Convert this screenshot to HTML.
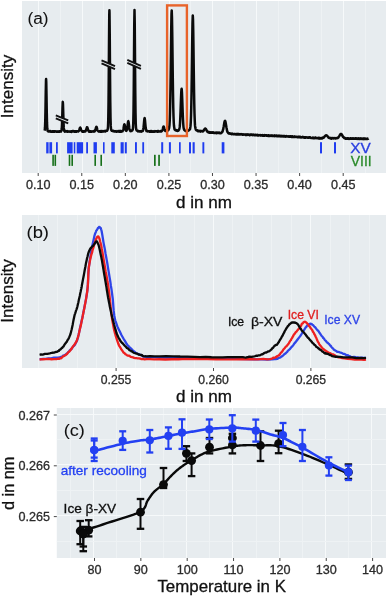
<!DOCTYPE html>
<html><head><meta charset="utf-8"><style>
html,body{margin:0;padding:0;background:#fff;width:387px;height:597px;overflow:hidden}
svg{display:block;font-family:"Liberation Sans", sans-serif;will-change:transform}
</style></head><body>
<svg width="387" height="597" viewBox="0 0 387 597" font-family='"Liberation Sans", sans-serif'><rect x="22" y="1" width="364" height="172" fill="#e7ecef"/>
<line x1="38.5" y1="1" x2="38.5" y2="173" stroke="#f6f9fa" stroke-width="1"/>
<line x1="60.5" y1="1" x2="60.5" y2="173" stroke="#eef2f4" stroke-width="1"/>
<line x1="82.5" y1="1" x2="82.5" y2="173" stroke="#f6f9fa" stroke-width="1"/>
<line x1="103.5" y1="1" x2="103.5" y2="173" stroke="#eef2f4" stroke-width="1"/>
<line x1="125.5" y1="1" x2="125.5" y2="173" stroke="#f6f9fa" stroke-width="1"/>
<line x1="147.5" y1="1" x2="147.5" y2="173" stroke="#eef2f4" stroke-width="1"/>
<line x1="169.5" y1="1" x2="169.5" y2="173" stroke="#f6f9fa" stroke-width="1"/>
<line x1="190.5" y1="1" x2="190.5" y2="173" stroke="#eef2f4" stroke-width="1"/>
<line x1="212.5" y1="1" x2="212.5" y2="173" stroke="#f6f9fa" stroke-width="1"/>
<line x1="234.5" y1="1" x2="234.5" y2="173" stroke="#eef2f4" stroke-width="1"/>
<line x1="256.5" y1="1" x2="256.5" y2="173" stroke="#f6f9fa" stroke-width="1"/>
<line x1="278.5" y1="1" x2="278.5" y2="173" stroke="#eef2f4" stroke-width="1"/>
<line x1="299.5" y1="1" x2="299.5" y2="173" stroke="#f6f9fa" stroke-width="1"/>
<line x1="321.5" y1="1" x2="321.5" y2="173" stroke="#eef2f4" stroke-width="1"/>
<line x1="343.5" y1="1" x2="343.5" y2="173" stroke="#f6f9fa" stroke-width="1"/>
<line x1="365.5" y1="1" x2="365.5" y2="173" stroke="#eef2f4" stroke-width="1"/>
<line x1="38.20" y1="173" x2="38.20" y2="176" stroke="#333" stroke-width="0.9"/>
<text stroke="#2b2b2b" stroke-width="0.3" x="38.20" y="189.2" font-size="12.6" fill="#2b2b2b" text-anchor="middle">0.10</text>
<line x1="81.77" y1="173" x2="81.77" y2="176" stroke="#333" stroke-width="0.9"/>
<text stroke="#2b2b2b" stroke-width="0.3" x="81.77" y="189.2" font-size="12.6" fill="#2b2b2b" text-anchor="middle">0.15</text>
<line x1="125.34" y1="173" x2="125.34" y2="176" stroke="#333" stroke-width="0.9"/>
<text stroke="#2b2b2b" stroke-width="0.3" x="125.34" y="189.2" font-size="12.6" fill="#2b2b2b" text-anchor="middle">0.20</text>
<line x1="168.91" y1="173" x2="168.91" y2="176" stroke="#333" stroke-width="0.9"/>
<text stroke="#2b2b2b" stroke-width="0.3" x="168.91" y="189.2" font-size="12.6" fill="#2b2b2b" text-anchor="middle">0.25</text>
<line x1="212.48" y1="173" x2="212.48" y2="176" stroke="#333" stroke-width="0.9"/>
<text stroke="#2b2b2b" stroke-width="0.3" x="212.48" y="189.2" font-size="12.6" fill="#2b2b2b" text-anchor="middle">0.30</text>
<line x1="256.05" y1="173" x2="256.05" y2="176" stroke="#333" stroke-width="0.9"/>
<text stroke="#2b2b2b" stroke-width="0.3" x="256.05" y="189.2" font-size="12.6" fill="#2b2b2b" text-anchor="middle">0.35</text>
<line x1="299.62" y1="173" x2="299.62" y2="176" stroke="#333" stroke-width="0.9"/>
<text stroke="#2b2b2b" stroke-width="0.3" x="299.62" y="189.2" font-size="12.6" fill="#2b2b2b" text-anchor="middle">0.40</text>
<line x1="343.19" y1="173" x2="343.19" y2="176" stroke="#333" stroke-width="0.9"/>
<text stroke="#2b2b2b" stroke-width="0.3" x="343.19" y="189.2" font-size="12.6" fill="#2b2b2b" text-anchor="middle">0.45</text>
<polyline points="44.50,130.62 44.75,130.02 45.00,127.49 45.25,120.92 45.50,108.38 45.75,92.07 46.00,80.23 46.10,78.99 46.25,81.73 46.50,95.31 46.75,111.35 47.00,122.68 47.25,128.23 47.50,130.26 47.75,130.97 48.00,130.83 48.25,131.27 48.50,131.49 48.75,131.29 49.00,131.48 49.25,131.46 49.50,131.06 49.75,131.56 50.00,131.46 50.25,131.26 50.50,131.08 50.75,131.68 51.00,131.41 51.25,131.59 51.50,131.70 51.75,131.59 52.00,131.74 52.25,131.38 52.50,131.66 52.75,131.42 53.00,131.76 53.25,131.73 53.50,131.18 53.75,131.21 54.00,131.27 54.25,131.79 54.50,131.42 54.75,131.56 55.00,131.33 55.25,131.47 55.50,131.39 55.75,131.36 56.00,131.53 56.25,131.52 56.50,131.75 56.75,131.59 57.00,131.76 57.25,131.71 57.50,131.80 57.75,131.58 58.00,131.22 58.25,131.70 58.50,131.77 58.75,131.72 59.00,131.48 59.25,131.57 59.50,131.21 59.75,131.63 60.00,131.44 60.25,131.21 60.50,131.03 60.75,131.54 61.00,131.57 61.25,130.77 61.50,130.49 61.75,128.73 62.00,124.40 62.25,116.69 62.50,107.53 62.75,102.06 62.80,101.88 63.00,104.56 63.25,112.96 63.50,121.69 63.75,127.38 64.00,130.00 64.25,130.91 64.50,131.19 64.75,131.63 65.00,131.19 65.25,131.06 65.50,131.45 65.75,131.07 66.00,131.20 66.25,131.36 66.50,131.51 66.75,131.20 67.00,131.13 67.25,131.71 67.50,131.33 67.75,131.78 68.00,131.74 68.25,131.38 68.50,131.44 68.75,131.49 69.00,131.58 69.25,131.54 69.50,131.52 69.75,131.56 70.00,131.79 70.25,131.49 70.50,131.44 70.75,131.64 71.00,131.30 71.25,131.35 71.50,131.82 71.75,131.50 72.00,131.52 72.25,131.14 72.50,131.43 72.75,131.54 73.00,131.15 73.25,131.57 73.50,131.58 73.75,131.18 74.00,131.57 74.25,131.46 74.50,131.61 74.75,131.38 75.00,131.62 75.25,131.64 75.50,131.14 75.75,131.17 76.00,131.59 76.25,131.79 76.50,131.29 76.75,131.43 77.00,131.52 77.25,131.32 77.50,131.34 77.75,131.29 78.00,131.30 78.25,131.40 78.50,131.08 78.75,130.99 79.00,130.59 79.25,129.99 79.50,129.20 79.75,128.38 80.00,127.75 80.20,127.57 80.25,127.58 80.50,127.96 80.75,128.69 81.00,129.53 81.25,130.25 81.50,130.77 81.75,130.96 82.00,131.14 82.25,131.58 82.50,131.34 82.75,131.65 83.00,131.18 83.25,131.30 83.50,131.52 83.75,131.69 84.00,131.38 84.25,131.22 84.50,131.13 84.75,131.40 85.00,131.13 85.25,131.48 85.50,131.33 85.75,130.78 86.00,130.25 86.25,129.50 86.50,128.59 86.75,127.73 87.00,127.21 87.10,127.16 87.25,127.27 87.50,127.88 87.75,128.78 88.00,129.67 88.25,130.38 88.50,130.86 88.75,131.08 89.00,131.58 89.25,131.12 89.50,131.05 89.75,131.72 90.00,131.69 90.25,131.77 90.50,131.39 90.75,131.76 91.00,131.74 91.25,131.25 91.50,131.62 91.75,131.68 92.00,131.56 92.25,131.46 92.50,131.29 92.75,131.33 93.00,131.24 93.25,131.12 93.50,131.48 93.75,131.25 94.00,131.60 94.25,131.02 94.50,131.55 94.75,131.24 95.00,130.80 95.25,130.27 95.50,129.49 95.75,128.51 96.00,127.54 96.25,126.87 96.40,126.75 96.50,126.80 96.75,127.37 97.00,128.31 97.25,129.30 97.50,130.13 97.75,130.70 98.00,130.94 98.25,131.06 98.50,131.57 98.75,131.35 99.00,131.58 99.25,131.29 99.50,131.19 99.75,131.43 100.00,131.63 100.25,131.18 100.50,131.62 100.75,131.71 101.00,131.63 101.25,131.64 101.50,131.07 101.75,131.50 102.00,131.66 102.25,131.08 102.50,131.23 102.75,131.22 103.00,131.40 103.25,131.31 103.50,131.34 103.75,131.54 104.00,130.98 104.25,131.00 104.50,131.03 104.75,131.01 105.00,130.94 105.25,131.54 105.50,131.42 105.75,130.84 106.00,131.07 106.25,130.87 106.50,130.78 106.75,130.70 107.00,130.76 107.25,130.50 107.50,129.99 107.75,129.03 108.00,126.80 108.25,120.02 108.50,104.58 108.75,77.47 109.00,42.95 109.25,15.55 109.40,10.17 109.50,12.60 109.75,36.30 110.00,70.83 110.25,100.09 110.50,117.77 110.75,125.91 111.00,128.89 111.25,129.89 111.50,130.38 111.75,130.76 112.00,130.72 112.25,131.03 112.50,130.95 112.75,130.88 113.00,131.14 113.25,131.30 113.50,130.90 113.75,131.18 114.00,131.21 114.25,131.55 114.50,131.61 114.75,131.23 115.00,131.61 115.25,131.55 115.50,131.19 115.75,131.34 116.00,131.11 116.25,131.60 116.50,131.50 116.75,131.66 117.00,131.60 117.25,131.52 117.50,131.57 117.75,131.45 118.00,131.13 118.25,131.47 118.50,131.06 118.75,131.16 119.00,131.60 119.25,131.09 119.50,131.12 119.75,131.12 120.00,131.66 120.25,131.17 120.50,131.05 120.75,131.62 121.00,131.10 121.25,131.59 121.50,131.46 121.75,131.55 122.00,131.60 122.25,131.28 122.50,131.31 122.75,130.53 123.00,130.40 123.25,129.61 123.50,128.44 123.75,126.98 124.00,125.52 124.25,124.51 124.40,124.32 124.50,124.40 124.75,125.23 125.00,126.62 125.25,128.08 125.50,129.28 125.75,130.10 126.00,130.64 126.25,130.90 126.50,130.55 126.75,130.14 127.00,129.43 127.25,128.10 127.50,126.24 127.75,124.09 128.00,122.18 128.25,121.20 128.30,121.17 128.50,121.63 128.75,123.24 129.00,125.37 129.25,127.39 129.50,128.94 129.75,129.95 130.00,130.50 130.25,130.88 130.50,131.17 130.75,130.68 131.00,130.63 131.25,131.05 131.50,131.11 131.75,130.75 132.00,130.57 132.25,130.60 132.50,129.96 132.75,129.45 133.00,127.82 133.25,123.45 133.50,112.02 133.75,89.61 134.00,56.87 134.25,24.37 134.50,10.11 134.75,24.37 135.00,56.88 135.25,89.62 135.50,112.04 135.75,123.47 136.00,127.86 136.25,129.32 136.50,130.21 136.75,130.42 137.00,130.45 137.25,130.71 137.50,130.79 137.75,131.18 138.00,130.80 138.25,131.45 138.50,131.13 138.75,131.25 139.00,131.18 139.25,131.46 139.50,131.47 139.75,131.29 140.00,131.25 140.25,131.42 140.50,131.52 140.75,131.20 141.00,131.43 141.25,131.58 141.50,131.22 141.75,131.03 142.00,131.00 142.25,131.28 142.50,131.13 142.75,131.07 143.00,130.49 143.25,129.27 143.50,127.64 143.75,125.31 144.00,122.50 144.25,119.85 144.50,118.25 144.60,118.10 144.75,118.45 145.00,120.34 145.25,123.09 145.50,125.84 145.75,128.05 146.00,129.53 146.25,130.12 146.50,131.09 146.75,130.93 147.00,131.09 147.25,131.30 147.50,131.41 147.75,130.97 148.00,131.22 148.25,131.31 148.50,131.36 148.75,131.18 149.00,131.45 149.25,131.72 149.50,131.33 149.75,131.45 150.00,131.16 150.25,131.27 150.50,131.55 150.75,131.16 151.00,131.71 151.25,131.73 151.50,131.16 151.75,131.75 152.00,131.36 152.25,131.64 152.50,131.63 152.75,131.30 153.00,131.57 153.25,131.56 153.50,131.66 153.75,131.28 154.00,131.62 154.25,131.77 154.50,131.57 154.75,131.47 155.00,131.17 155.25,131.44 155.50,131.34 155.75,131.59 156.00,131.56 156.25,131.48 156.50,131.21 156.75,131.53 157.00,131.51 157.25,131.19 157.50,131.69 157.75,131.52 158.00,131.14 158.25,131.70 158.50,131.15 158.75,131.27 159.00,131.54 159.25,131.44 159.50,131.41 159.75,131.46 160.00,131.32 160.25,131.20 160.50,131.09 160.75,131.00 161.00,131.43 161.25,131.43 161.50,131.23 161.75,131.26 162.00,130.80 162.25,130.54 162.50,129.95 162.75,129.10 163.00,128.09 163.25,127.12 163.50,126.53 163.60,126.47 163.75,126.58 164.00,127.24 164.25,128.20 164.50,129.16 164.75,129.93 165.00,130.43 165.25,130.95 165.50,130.56 165.75,130.71 166.00,130.59 166.25,130.57 166.50,130.99 166.75,130.90 167.00,130.45 167.25,130.37 167.50,130.44 167.75,130.55 168.00,130.45 168.25,130.22 168.50,129.84 168.75,129.11 169.00,128.56 169.25,127.06 169.50,124.79 169.75,120.37 170.00,112.72 170.25,101.67 170.50,86.12 170.75,66.91 171.00,46.06 171.25,27.00 171.50,13.99 171.70,10.48 171.75,10.70 172.00,18.19 172.25,34.13 172.50,54.38 172.75,74.91 173.00,92.81 173.25,106.89 173.50,116.24 173.75,122.41 174.00,126.05 174.25,127.50 174.50,129.08 174.75,129.57 175.00,129.78 175.25,130.02 175.50,130.14 175.75,130.07 176.00,130.40 176.25,130.13 176.50,130.51 176.75,130.66 177.00,130.55 177.25,130.66 177.50,130.94 177.75,130.88 178.00,130.33 178.25,130.75 178.50,130.54 178.75,129.98 179.00,129.90 179.25,129.22 179.50,128.01 179.75,126.41 180.00,123.59 180.25,118.75 180.50,112.73 180.75,105.65 181.00,98.42 181.25,92.40 181.50,89.08 181.60,88.77 181.75,89.47 182.00,93.44 182.25,99.83 182.50,107.14 182.75,114.07 183.00,119.82 183.25,124.02 183.50,127.09 183.75,128.63 184.00,129.35 184.25,129.84 184.50,130.14 184.75,130.38 185.00,130.44 185.25,130.73 185.50,130.91 185.75,130.82 186.00,130.75 186.25,130.92 186.50,130.68 186.75,130.78 187.00,130.97 187.25,130.69 187.50,130.51 187.75,130.97 188.00,130.79 188.25,130.48 188.50,130.40 188.75,130.41 189.00,130.34 189.25,129.93 189.50,129.56 189.75,129.38 190.00,129.24 190.25,127.79 190.50,126.14 190.75,122.54 191.00,116.72 191.25,107.48 191.50,94.47 191.75,77.32 192.00,57.65 192.25,38.25 192.50,22.98 192.75,15.80 192.80,15.59 193.00,18.96 193.25,31.42 193.50,49.68 193.75,69.65 194.00,88.06 194.25,102.95 194.50,113.67 194.75,120.49 195.00,125.41 195.25,127.29 195.50,128.50 195.75,129.46 196.00,129.65 196.25,130.22 196.50,130.21 196.75,130.20 197.00,130.27 197.25,130.84 197.50,130.60 197.75,131.03 198.00,130.87 198.25,131.25 198.50,130.85 198.75,130.86 199.00,130.91 199.25,131.32 199.50,131.22 199.75,131.04 200.00,130.89 200.25,131.34 200.50,131.58 200.75,131.36 201.00,130.98 201.25,131.02 201.50,131.09 201.75,131.16 202.00,131.06 202.25,131.05 202.50,131.42 202.75,131.50 203.00,130.87 203.25,131.21 203.50,130.61 203.75,130.52 204.00,129.94 204.25,129.55 204.50,129.17 204.75,128.85 205.00,128.63 205.25,128.54 205.30,128.55 205.50,128.62 205.75,128.85 206.00,129.20 206.25,129.62 206.50,130.07 206.75,130.51 207.00,131.21 207.25,131.02 207.50,131.70 207.75,131.92 208.00,132.16 208.25,132.09 208.50,132.45 208.75,132.13 209.00,132.22 209.25,132.14 209.50,132.57 209.75,132.39 210.00,132.28 210.25,132.23 210.50,132.64 210.75,132.58 211.00,132.67 211.25,132.46 211.50,132.55 211.75,132.33 212.00,132.74 212.25,132.28 212.50,132.61 212.75,132.83 213.00,132.79 213.25,132.40 213.50,132.51 213.75,132.95 214.00,132.82 214.25,133.00 214.50,133.02 214.75,132.73 215.00,133.06 215.25,132.96 215.50,132.70 215.75,132.73 216.00,132.54 216.25,132.78 216.50,133.18 216.75,132.60 217.00,132.94 217.25,132.63 217.50,132.62 217.75,133.03 218.00,132.75 218.25,132.62 218.50,132.70 218.75,133.06 219.00,133.02 219.25,132.62 219.50,132.78 219.75,133.30 220.00,132.77 220.25,133.01 220.50,132.90 220.75,133.13 221.00,132.98 221.25,133.06 221.50,132.79 221.75,132.41 222.00,132.18 222.25,131.78 222.50,131.82 222.75,130.65 223.00,129.71 223.25,129.25 223.50,127.40 223.75,126.13 224.00,124.59 224.25,123.12 224.50,121.88 224.75,121.05 225.00,120.77 225.25,121.08 225.50,121.95 225.75,123.21 226.00,124.71 226.25,126.28 226.50,127.75 226.75,128.87 227.00,130.52 227.25,131.27 227.50,132.12 227.75,132.21 228.00,132.80 228.25,133.00 228.50,133.36 228.75,133.02 229.00,133.29 229.25,133.45 229.50,133.21 229.75,133.59 230.00,133.75 230.25,133.57 230.50,133.75 230.75,133.75 231.00,133.50 231.25,133.63 231.50,134.10 231.75,133.66 232.00,133.75 232.25,133.53 232.50,133.64 232.75,133.63 233.00,134.18 233.25,134.06 233.50,134.18 233.75,134.28 234.00,134.04 234.25,134.28 234.50,134.02 234.75,133.96 235.00,134.34 235.25,134.33 235.50,134.38 235.75,134.07 236.00,134.29 236.25,134.05 236.50,134.48 236.75,134.44 237.00,134.02 237.25,134.49 237.50,133.98 237.75,133.93 238.00,134.39 238.25,134.11 238.50,134.28 238.75,134.38 239.00,133.98 239.25,134.49 239.50,134.17 239.75,134.30 240.00,134.25 240.25,134.54 240.50,134.56 240.75,134.25 241.00,134.13 241.25,134.28 241.50,134.37 241.75,134.14 242.00,134.21 242.25,134.65 242.50,134.61 242.75,134.82 243.00,134.83 243.25,134.77 243.50,134.43 243.75,134.29 244.00,134.41 244.25,134.52 244.50,134.58 244.75,134.60 245.00,134.49 245.25,134.84 245.50,134.45 245.75,134.59 246.00,134.90 246.25,134.85 246.50,134.51 246.75,134.48 247.00,134.89 247.25,134.34 247.50,134.43 247.75,134.72 248.00,134.74 248.25,134.49 248.50,134.42 248.75,134.54 249.00,134.95 249.25,134.74 249.50,135.11 249.75,134.99 250.00,135.14 250.25,134.49 250.50,134.60 250.75,134.49 251.00,134.80 251.25,134.74 251.50,134.55 251.75,134.91 252.00,134.60 252.25,134.76 252.50,134.73 252.75,135.13 253.00,134.87 253.25,134.77 253.50,134.63 253.75,134.91 254.00,135.06 254.25,135.10 254.50,135.28 254.75,135.22 255.00,134.84 255.25,134.77 255.50,135.22 255.75,135.25 256.00,135.06 256.25,135.30 256.50,135.11 256.75,134.93 257.00,134.87 257.25,134.77 257.50,135.22 257.75,135.41 258.00,135.43 258.25,135.13 258.50,135.28 258.75,135.47 259.00,135.40 259.25,135.27 259.50,135.15 259.75,135.23 260.00,135.00 260.25,135.02 260.50,135.38 260.75,135.60 261.00,135.30 261.25,135.22 261.50,135.19 261.75,135.27 262.00,135.52 262.25,135.29 262.50,135.65 262.75,135.10 263.00,135.22 263.25,135.38 263.50,135.31 263.75,135.63 264.00,135.63 264.25,135.71 264.50,135.50 264.75,135.10 265.00,135.49 265.25,135.48 265.50,135.45 265.75,135.32 266.00,135.63 266.25,135.78 266.50,135.22 266.75,135.63 267.00,135.43 267.25,135.54 267.50,135.82 267.75,135.88 268.00,135.67 268.25,135.36 268.50,135.88 268.75,135.37 269.00,135.53 269.25,135.85 269.50,135.50 269.75,135.48 270.00,135.96 270.25,135.97 270.50,135.54 270.75,135.61 271.00,135.54 271.25,135.44 271.50,135.54 271.75,136.06 272.00,135.44 272.25,135.56 272.50,135.55 272.75,135.47 273.00,135.79 273.25,135.96 273.50,136.03 273.75,135.90 274.00,136.04 274.25,135.48 274.50,135.69 274.75,136.17 275.00,135.56 275.25,135.71 275.50,135.87 275.75,135.73 276.00,135.93 276.25,135.60 276.50,135.74 276.75,136.25 277.00,135.70 277.25,136.24 277.50,135.74 277.75,136.32 278.00,136.11 278.25,136.10 278.50,135.76 278.75,135.71 279.00,136.21 279.25,135.81 279.50,135.83 279.75,136.29 280.00,136.33 280.25,135.77 280.50,136.41 280.75,136.13 281.00,136.03 281.25,135.85 281.50,136.06 281.75,136.49 282.00,136.00 282.25,135.91 282.50,135.93 282.75,135.93 283.00,136.09 283.25,136.50 283.50,135.92 283.75,136.01 284.00,136.55 284.25,136.60 284.50,136.60 284.75,136.09 285.00,136.18 285.25,136.61 285.50,136.29 285.75,136.46 286.00,136.19 286.25,136.00 286.50,136.24 286.75,136.53 287.00,136.56 287.25,136.42 287.50,136.36 287.75,136.42 288.00,136.37 288.25,136.44 288.50,136.66 288.75,136.23 289.00,136.52 289.25,136.76 289.50,136.71 289.75,136.26 290.00,136.82 290.25,136.74 290.50,136.29 290.75,136.37 291.00,136.34 291.25,136.25 291.50,136.92 291.75,136.53 292.00,136.87 292.25,136.36 292.50,136.30 292.75,136.92 293.00,136.88 293.25,137.03 293.50,136.83 293.75,136.73 294.00,136.92 294.25,136.46 294.50,136.79 294.75,136.74 295.00,136.54 295.25,136.88 295.50,136.70 295.75,136.84 296.00,136.76 296.25,136.74 296.50,136.78 296.75,136.97 297.00,137.25 297.25,137.23 297.50,137.19 297.75,137.19 298.00,136.82 298.25,137.32 298.50,136.84 298.75,136.75 299.00,137.03 299.25,137.21 299.50,136.95 299.75,137.18 300.00,136.94 300.25,137.43 300.50,137.09 300.75,137.12 301.00,137.17 301.25,137.43 301.50,137.52 301.75,137.22 302.00,137.17 302.25,137.31 302.50,136.94 302.75,137.20 303.00,137.51 303.25,137.48 303.50,136.99 303.75,137.56 304.00,137.25 304.25,137.68 304.50,137.27 304.75,137.17 305.00,137.42 305.25,137.67 305.50,137.37 305.75,137.69 306.00,137.60 306.25,137.37 306.50,137.34 306.75,137.50 307.00,137.44 307.25,137.43 307.50,137.64 307.75,137.82 308.00,137.63 308.25,137.33 308.50,137.40 308.75,137.52 309.00,137.71 309.25,137.39 309.50,137.36 309.75,137.55 310.00,137.53 310.25,137.37 310.50,137.74 310.75,138.02 311.00,137.77 311.25,137.93 311.50,138.00 311.75,138.02 312.00,138.09 312.25,137.78 312.50,137.96 312.75,137.58 313.00,138.13 313.25,137.79 313.50,137.87 313.75,138.18 314.00,137.77 314.25,137.72 314.50,138.17 314.75,138.03 315.00,137.69 315.25,137.66 315.50,137.90 315.75,137.67 316.00,138.27 316.25,137.83 316.50,137.90 316.75,138.00 317.00,138.10 317.25,138.06 317.50,138.21 317.75,138.24 318.00,138.10 318.25,137.87 318.50,138.50 318.75,138.32 319.00,137.90 319.25,138.17 319.50,138.40 319.75,138.57 320.00,137.94 320.25,137.90 320.50,138.22 320.75,138.18 321.00,138.50 321.25,138.45 321.50,138.09 321.75,138.13 322.00,138.22 322.25,138.39 322.50,137.86 322.75,137.92 323.00,137.61 323.25,137.87 323.50,137.29 323.75,137.74 324.00,137.23 324.25,137.01 324.50,136.40 324.75,136.40 325.00,136.11 325.25,135.84 325.50,135.60 325.75,135.42 326.00,135.31 326.20,135.28 326.25,135.29 326.50,135.35 326.75,135.49 327.00,135.70 327.25,135.96 327.50,136.25 327.75,136.62 328.00,136.73 328.25,137.29 328.50,137.63 328.75,137.80 329.00,137.90 329.25,137.67 329.50,137.68 329.75,138.03 330.00,138.02 330.25,137.99 330.50,138.50 330.75,138.07 331.00,138.51 331.25,138.61 331.50,138.04 331.75,138.61 332.00,138.25 332.25,138.13 332.50,138.12 332.75,138.02 333.00,138.34 333.25,138.26 333.50,138.59 333.75,138.58 334.00,138.04 334.25,138.28 334.50,138.27 334.75,138.12 335.00,138.17 335.25,138.18 335.50,138.47 335.75,138.21 336.00,138.04 336.25,138.10 336.50,138.23 336.75,138.28 337.00,138.00 337.25,138.24 337.50,137.80 337.75,137.98 338.00,137.76 338.25,137.23 338.50,137.36 338.75,136.79 339.00,136.52 339.25,136.16 339.50,135.75 339.75,135.22 340.00,134.80 340.25,134.43 340.50,134.14 340.75,133.95 341.00,133.89 341.25,133.96 341.50,134.15 341.75,134.45 342.00,134.83 342.25,135.25 342.50,136.03 342.75,136.02 343.00,136.89 343.25,136.90 343.50,137.02 343.75,137.67 344.00,137.64 344.25,138.10 344.50,138.13 344.75,137.91 345.00,138.29 345.25,138.57 345.50,138.36 345.75,138.43 346.00,138.68 346.25,138.41 346.50,138.46 346.75,138.53 347.00,138.71 347.25,138.29 347.50,138.22 347.75,138.69 348.00,138.55 348.25,138.38 348.50,138.80 348.75,138.80 349.00,138.57 349.25,138.89 349.50,138.78 349.75,138.73 350.00,138.41 350.25,138.22 350.50,138.69 350.75,138.74 351.00,138.47 351.25,138.56 351.50,138.63 351.75,138.41 352.00,138.73 352.25,138.64 352.50,138.52 352.75,138.33 353.00,138.64 353.25,138.48 353.50,138.77 353.75,138.39 354.00,138.54 354.25,138.41 354.50,138.56 354.75,138.68 355.00,138.36 355.25,138.32 355.50,138.62 355.75,138.43 356.00,138.65 356.25,138.41 356.50,138.37 356.75,138.68 357.00,138.95 357.25,138.92 357.50,138.67 357.75,138.59 358.00,138.36 358.25,138.51 358.50,138.54 358.75,138.98 359.00,138.41 359.25,138.99 359.50,138.67 359.75,138.64 360.00,138.52 360.25,139.01 360.50,138.47 360.75,138.75 361.00,138.71 361.25,138.49 361.50,138.51 361.75,139.05 362.00,138.91 362.25,138.88 362.50,139.00 362.75,138.44 363.00,138.86 363.25,138.90 363.50,138.53 363.75,138.70 364.00,139.06 364.25,138.61 364.50,138.92 364.75,138.50 365.00,138.86 365.25,138.58 365.50,138.75 365.75,138.66 366.00,139.01 366.25,138.93 366.50,138.76 366.75,138.89 367.00,138.71 367.25,138.98 367.50,138.60 367.75,138.80 368.00,138.83 368.25,138.70 368.50,138.46" fill="none" stroke="#0a0a0a" stroke-width="2.5" stroke-linejoin="round"/>
<polygon points="55.8,115.4 68.2,120.4 68.2,123.4 55.8,118.4" fill="#e7ecef" stroke="none"/>
<line x1="55.8" y1="115.4" x2="68.2" y2="120.4" stroke="#111" stroke-width="1.9"/>
<line x1="55.8" y1="118.4" x2="68.2" y2="123.4" stroke="#111" stroke-width="1.9"/>
<polygon points="101.5,60.3 115,66.1 115,69.1 101.5,63.3" fill="#e7ecef" stroke="none"/>
<line x1="101.5" y1="60.3" x2="115" y2="66.1" stroke="#111" stroke-width="1.9"/>
<line x1="101.5" y1="63.3" x2="115" y2="69.1" stroke="#111" stroke-width="1.9"/>
<polygon points="127.3,59.9 140.9,65.9 140.9,68.9 127.3,62.9" fill="#e7ecef" stroke="none"/>
<line x1="127.3" y1="59.9" x2="140.9" y2="65.9" stroke="#111" stroke-width="1.9"/>
<line x1="127.3" y1="62.9" x2="140.9" y2="68.9" stroke="#111" stroke-width="1.9"/>
<rect x="167.1" y="5.4" width="19.8" height="130.6" fill="none" stroke="#e8632a" stroke-width="2.4"/>
<rect x="46.2" y="142.2" width="2.40" height="11.2" fill="#1f3cf0"/>
<rect x="49.4" y="142.2" width="2.70" height="11.2" fill="#1f3cf0"/>
<rect x="56" y="142.2" width="1.80" height="11.2" fill="#1f3cf0"/>
<rect x="67.1" y="142.2" width="5.50" height="11.2" fill="#1f3cf0"/>
<rect x="73.8" y="142.2" width="1.50" height="11.2" fill="#1f3cf0"/>
<rect x="76.7" y="142.2" width="6.40" height="11.2" fill="#1f3cf0"/>
<rect x="86.2" y="142.2" width="1.80" height="11.2" fill="#1f3cf0"/>
<rect x="93.5" y="142.2" width="3.40" height="11.2" fill="#1f3cf0"/>
<rect x="103" y="142.2" width="1.60" height="11.2" fill="#1f3cf0"/>
<rect x="111.3" y="142.2" width="3.50" height="11.2" fill="#1f3cf0"/>
<rect x="120.6" y="142.2" width="3.10" height="11.2" fill="#1f3cf0"/>
<rect x="124.8" y="142.2" width="2.00" height="11.2" fill="#1f3cf0"/>
<rect x="135" y="142.2" width="1.90" height="11.2" fill="#1f3cf0"/>
<rect x="142.3" y="142.2" width="1.80" height="11.2" fill="#1f3cf0"/>
<rect x="161.2" y="142.2" width="2.00" height="11.2" fill="#1f3cf0"/>
<rect x="168.9" y="142.2" width="2.00" height="11.2" fill="#1f3cf0"/>
<rect x="179" y="142.2" width="1.70" height="11.2" fill="#1f3cf0"/>
<rect x="189" y="142.2" width="2.00" height="11.2" fill="#1f3cf0"/>
<rect x="192.6" y="142.2" width="2.10" height="11.2" fill="#1f3cf0"/>
<rect x="202.4" y="142.2" width="1.90" height="11.2" fill="#1f3cf0"/>
<rect x="221.7" y="142.2" width="2.70" height="11.2" fill="#1f3cf0"/>
<rect x="320" y="142.2" width="2.00" height="11.2" fill="#1f3cf0"/>
<rect x="334" y="142.2" width="2.00" height="11.2" fill="#1f3cf0"/>
<rect x="52.3" y="154.8" width="1.60" height="11.1" fill="#17701a"/>
<rect x="54.5" y="154.8" width="1.60" height="11.1" fill="#17701a"/>
<rect x="68.7" y="154.8" width="1.60" height="11.1" fill="#17701a"/>
<rect x="71.4" y="154.8" width="1.60" height="11.1" fill="#17701a"/>
<rect x="94.4" y="154.8" width="1.60" height="11.1" fill="#17701a"/>
<rect x="100.4" y="154.8" width="1.60" height="11.1" fill="#17701a"/>
<rect x="154" y="154.8" width="1.70" height="11.1" fill="#17701a"/>
<rect x="158.2" y="154.8" width="1.70" height="11.1" fill="#17701a"/>
<text stroke="#2a3fe0" stroke-width="0.3" x="360.6" y="153.1" font-size="14.6" textLength="20.5" lengthAdjust="spacingAndGlyphs" fill="#2a3fe0" text-anchor="middle">XV</text>
<text stroke="#2a8a2a" stroke-width="0.3" x="361.2" y="166.3" font-size="15.3" textLength="21" lengthAdjust="spacingAndGlyphs" fill="#2a8a2a" text-anchor="middle">VIII</text>
<text x="27.6" y="24.4" font-size="16" textLength="21" lengthAdjust="spacingAndGlyphs" fill="#111" stroke="#111" stroke-width="0.05">(a)</text>
<text stroke="#111" stroke-width="0.3" transform="translate(13.4,86.5) rotate(-90)" font-size="17" fill="#111" text-anchor="middle">Intensity</text>
<text stroke="#111" stroke-width="0.3" x="204" y="207.9" font-size="16.2" textLength="56" lengthAdjust="spacingAndGlyphs" fill="#111" text-anchor="middle">d in nm</text>
<rect x="22" y="215" width="364" height="153" fill="#e7ecef"/>
<line x1="38.5" y1="215" x2="38.5" y2="368" stroke="#eef2f4" stroke-width="1"/>
<line x1="57.5" y1="215" x2="57.5" y2="368" stroke="#eef2f4" stroke-width="1"/>
<line x1="77.5" y1="215" x2="77.5" y2="368" stroke="#eef2f4" stroke-width="1"/>
<line x1="96.5" y1="215" x2="96.5" y2="368" stroke="#eef2f4" stroke-width="1"/>
<line x1="116.5" y1="215" x2="116.5" y2="368" stroke="#f6f9fa" stroke-width="1"/>
<line x1="135.5" y1="215" x2="135.5" y2="368" stroke="#eef2f4" stroke-width="1"/>
<line x1="155.5" y1="215" x2="155.5" y2="368" stroke="#eef2f4" stroke-width="1"/>
<line x1="174.5" y1="215" x2="174.5" y2="368" stroke="#eef2f4" stroke-width="1"/>
<line x1="194.5" y1="215" x2="194.5" y2="368" stroke="#eef2f4" stroke-width="1"/>
<line x1="213.5" y1="215" x2="213.5" y2="368" stroke="#f6f9fa" stroke-width="1"/>
<line x1="232.5" y1="215" x2="232.5" y2="368" stroke="#eef2f4" stroke-width="1"/>
<line x1="252.5" y1="215" x2="252.5" y2="368" stroke="#eef2f4" stroke-width="1"/>
<line x1="271.5" y1="215" x2="271.5" y2="368" stroke="#eef2f4" stroke-width="1"/>
<line x1="291.5" y1="215" x2="291.5" y2="368" stroke="#eef2f4" stroke-width="1"/>
<line x1="310.5" y1="215" x2="310.5" y2="368" stroke="#f6f9fa" stroke-width="1"/>
<line x1="330.5" y1="215" x2="330.5" y2="368" stroke="#eef2f4" stroke-width="1"/>
<line x1="349.5" y1="215" x2="349.5" y2="368" stroke="#eef2f4" stroke-width="1"/>
<line x1="369.5" y1="215" x2="369.5" y2="368" stroke="#eef2f4" stroke-width="1"/>
<line x1="116.10" y1="368" x2="116.10" y2="371" stroke="#333" stroke-width="0.9"/>
<text stroke="#2b2b2b" stroke-width="0.3" x="116.10" y="383.5" font-size="12.2" fill="#2b2b2b" text-anchor="middle">0.255</text>
<line x1="213.50" y1="368" x2="213.50" y2="371" stroke="#333" stroke-width="0.9"/>
<text stroke="#2b2b2b" stroke-width="0.3" x="213.50" y="383.5" font-size="12.2" fill="#2b2b2b" text-anchor="middle">0.260</text>
<line x1="310.90" y1="368" x2="310.90" y2="371" stroke="#333" stroke-width="0.9"/>
<text stroke="#2b2b2b" stroke-width="0.3" x="310.90" y="383.5" font-size="12.2" fill="#2b2b2b" text-anchor="middle">0.265</text>
<polyline points="39.60,359.07 41.11,359.03 43.22,358.91 45.74,358.81 48.49,358.49 51.27,358.38 53.91,357.63 56.22,357.68 58.00,357.77 59.26,357.42 60.18,357.42 60.83,356.82 61.31,356.89 61.68,356.59 62.03,356.58 62.44,356.35 63.00,355.71 63.65,355.49 64.29,355.18 64.92,355.20 65.58,354.69 66.25,353.85 66.95,353.66 67.70,352.59 68.50,352.07 69.39,350.83 70.39,349.69 71.45,349.04 72.53,347.39 73.59,346.06 74.60,345.14 75.52,343.66 76.30,341.87 76.94,340.82 77.48,339.05 77.93,337.58 78.32,335.70 78.68,334.49 79.03,332.65 79.39,331.07 79.80,329.24 80.23,327.07 80.66,325.29 81.09,323.33 81.51,321.41 81.94,319.38 82.38,317.44 82.83,315.42 83.30,312.70 83.80,310.57 84.34,307.64 84.91,304.77 85.48,302.13 86.03,298.92 86.54,295.80 87.01,292.91 87.40,290.12 87.69,286.89 87.89,284.63 88.02,281.27 88.12,278.91 88.22,276.13 88.37,272.75 88.58,270.24 88.90,266.92 89.33,263.74 89.86,259.83 90.44,256.14 91.07,252.48 91.71,249.30 92.35,245.42 92.95,242.67 93.50,240.16 94.00,238.00 94.47,235.80 94.92,234.26 95.36,233.05 95.79,232.10 96.22,230.75 96.66,230.31 97.10,229.58 97.56,228.91 98.02,227.80 98.49,227.85 98.96,227.00 99.42,227.00 99.86,227.23 100.29,227.74 100.70,228.00 101.07,229.26 101.40,230.21 101.70,231.48 101.99,233.13 102.30,234.89 102.62,236.88 102.98,239.13 103.40,241.81 103.88,244.58 104.40,246.91 104.96,249.90 105.54,253.68 106.13,256.75 106.73,260.08 107.33,263.42 107.90,267.06 108.48,270.69 109.08,274.13 109.68,277.87 110.29,281.45 110.87,285.73 111.43,288.88 111.94,292.69 112.40,296.20 112.77,298.90 113.05,302.27 113.27,305.30 113.47,307.90 113.68,310.67 113.93,312.83 114.26,315.50 114.70,317.69 115.25,320.34 115.88,322.11 116.57,324.18 117.31,326.39 118.09,328.10 118.89,329.91 119.70,331.29 120.50,332.99 121.31,334.80 122.15,336.26 123.00,337.72 123.88,339.30 124.76,340.60 125.64,342.12 126.53,343.78 127.40,344.98 128.27,345.89 129.15,346.84 130.04,347.70 130.92,348.42 131.80,349.34 132.68,350.40 133.54,351.16 134.40,351.52 135.23,352.37 136.02,352.89 136.80,353.31 137.58,353.70 138.37,354.14 139.19,354.25 140.06,354.79 141.00,354.87 141.73,355.31 142.12,355.78 142.40,356.00 142.79,356.01 143.52,356.64 144.81,356.68 146.90,356.85 150.00,356.71 154.17,357.22 159.20,357.21 164.96,357.62 171.32,357.64 178.14,357.99 185.28,358.02 192.61,358.24 200.00,358.11 208.02,358.44 217.05,358.66 226.66,358.89 236.39,358.77 245.83,359.21 254.51,359.34 262.02,359.30 267.90,359.49 272.02,359.44 274.74,359.12 276.37,359.03 277.21,358.67 277.56,358.90 277.74,358.75 278.05,358.20 278.80,358.01 279.80,357.66 280.68,357.24 281.47,356.43 282.19,356.27 282.88,355.60 283.56,355.06 284.26,354.29 285.00,353.77 285.76,353.22 286.49,352.49 287.21,351.86 287.94,350.74 288.68,350.06 289.47,349.40 290.30,348.61 291.20,347.33 292.20,346.45 293.29,345.12 294.45,343.36 295.63,342.16 296.81,340.53 297.96,338.95 299.03,337.59 300.00,336.39 300.87,335.05 301.67,333.80 302.42,332.46 303.12,331.52 303.79,330.32 304.43,329.39 305.07,328.41 305.70,327.34 306.32,326.99 306.91,325.77 307.48,325.41 308.02,324.82 308.57,324.48 309.10,323.99 309.65,324.20 310.20,323.82 310.75,323.64 311.28,324.11 311.80,324.04 312.33,324.65 312.87,324.95 313.44,325.61 314.05,326.42 314.70,326.99 315.43,327.53 316.22,328.71 317.07,329.67 317.93,330.62 318.79,331.62 319.62,333.01 320.40,334.02 321.10,335.17 321.71,335.98 322.24,336.49 322.73,337.01 323.18,337.97 323.62,338.05 324.08,338.72 324.56,339.61 325.10,340.27 325.68,340.63 326.30,341.56 326.93,342.36 327.58,342.68 328.24,343.35 328.90,343.86 329.55,344.53 330.20,345.58 330.81,345.89 331.39,346.91 331.96,347.57 332.53,348.06 333.13,348.53 333.78,349.61 334.50,349.93 335.30,350.45 336.21,350.91 337.21,351.78 338.27,351.92 339.39,352.21 340.53,352.72 341.68,352.89 342.81,353.58 343.90,353.87 344.93,354.18 345.91,354.89 346.87,355.33 347.84,355.25 348.84,355.94 349.92,356.15 351.09,356.88 352.40,357.07 353.95,356.99 355.76,357.22 357.72,357.33 359.73,357.98 361.67,357.69 363.44,357.99 364.92,358.00 366.00,358.19" fill="none" stroke="#2f45e8" stroke-width="2.3" stroke-linejoin="round"/>
<polyline points="39.60,359.48 41.13,359.47 43.27,359.24 45.82,359.09 48.60,358.89 51.42,359.24 54.08,359.05 56.41,359.11 58.20,358.72 59.46,358.77 60.35,358.26 60.98,358.33 61.42,358.02 61.76,357.53 62.07,357.27 62.46,357.00 63.00,356.32 63.64,356.14 64.27,355.92 64.91,355.21 65.56,355.11 66.24,354.55 66.95,354.07 67.70,353.06 68.50,352.06 69.39,351.45 70.39,350.28 71.45,348.75 72.53,347.14 73.59,345.75 74.60,344.52 75.52,342.83 76.30,341.77 76.94,340.14 77.48,338.50 77.93,337.37 78.32,335.75 78.68,334.62 79.03,333.07 79.39,331.22 79.80,329.59 80.23,327.84 80.66,326.10 81.09,324.33 81.51,321.82 81.94,320.00 82.38,318.01 82.83,315.58 83.30,313.35 83.80,310.48 84.34,308.20 84.91,305.08 85.48,301.85 86.03,299.13 86.54,295.86 87.01,292.76 87.40,289.99 87.70,286.85 87.91,283.90 88.06,281.28 88.18,278.18 88.30,274.83 88.44,272.44 88.63,269.26 88.90,266.90 89.24,264.87 89.62,262.47 90.04,260.18 90.49,258.22 90.96,256.29 91.46,254.24 91.97,252.89 92.50,250.43 93.06,248.64 93.67,246.68 94.31,244.27 94.97,242.49 95.62,240.10 96.26,238.88 96.86,237.58 97.40,236.70 97.88,236.57 98.31,236.39 98.70,237.04 99.08,237.77 99.44,238.65 99.83,239.97 100.24,241.74 100.70,243.45 101.21,245.56 101.76,248.78 102.34,251.68 102.93,255.25 103.53,258.97 104.11,262.14 104.67,265.42 105.20,268.57 105.69,271.64 106.17,274.09 106.62,276.51 107.06,279.06 107.50,281.83 107.93,284.02 108.36,286.89 108.80,290.23 109.23,293.48 109.65,297.02 110.07,301.11 110.48,305.17 110.90,309.03 111.34,313.10 111.81,316.74 112.30,320.38 112.82,323.12 113.36,326.17 113.93,329.03 114.51,331.52 115.10,333.56 115.72,335.93 116.35,337.88 117.00,339.94 117.66,341.88 118.34,343.81 119.04,345.52 119.76,346.62 120.49,347.82 121.24,349.35 122.01,350.27 122.80,351.32 123.60,352.70 124.41,353.08 125.24,354.10 126.09,354.45 126.96,355.28 127.87,355.67 128.81,355.61 129.80,356.12 130.83,356.98 131.90,357.15 133.01,357.36 134.15,357.87 135.32,358.15 136.52,358.19 137.75,358.39 139.00,358.36 140.02,358.69 140.71,358.70 141.28,359.10 141.95,359.18 142.94,358.97 144.47,359.31 146.75,359.03 150.00,359.06 154.29,359.39 159.45,359.26 165.31,359.48 171.73,359.27 178.56,359.25 185.65,358.85 192.85,359.22 200.00,358.75 207.64,359.07 216.14,359.27 225.11,359.31 234.15,359.34 242.88,359.11 250.91,359.27 257.85,359.32 263.30,358.88 267.13,359.29 269.65,359.17 271.15,358.78 271.91,358.84 272.22,358.49 272.37,358.20 272.63,358.26 273.30,357.64 274.21,357.83 275.01,357.68 275.73,356.99 276.39,357.08 277.00,356.23 277.59,356.31 278.19,355.54 278.80,355.48 279.41,354.63 279.98,354.35 280.52,353.20 281.06,352.57 281.60,352.31 282.16,351.47 282.75,350.63 283.40,349.52 284.11,348.74 284.87,347.94 285.67,346.78 286.49,346.34 287.31,345.18 288.12,344.27 288.89,343.11 289.60,341.91 290.25,340.77 290.86,340.19 291.43,338.83 291.98,338.12 292.53,337.10 293.09,336.16 293.67,334.96 294.30,334.04 294.99,333.40 295.74,332.18 296.52,331.56 297.31,330.44 298.08,329.65 298.80,328.75 299.45,328.24 300.00,327.43 300.43,326.71 300.76,326.15 301.01,325.85 301.22,325.60 301.40,324.88 301.60,324.33 301.82,324.05 302.10,323.64 302.43,323.48 302.78,323.23 303.15,322.74 303.52,322.19 303.91,322.00 304.31,321.83 304.70,321.76 305.10,321.74 305.48,322.21 305.85,322.13 306.22,322.46 306.60,322.84 307.00,323.23 307.42,323.83 307.88,324.16 308.40,325.00 308.97,325.95 309.60,326.33 310.27,327.56 310.97,328.45 311.68,329.35 312.40,330.47 313.11,332.07 313.80,332.87 314.47,334.48 315.14,335.48 315.80,337.06 316.47,338.32 317.14,340.07 317.81,341.61 318.50,342.57 319.20,343.94 319.91,345.20 320.62,345.80 321.34,346.81 322.06,347.80 322.80,348.66 323.55,348.97 324.32,349.95 325.10,350.27 325.88,350.84 326.65,351.85 327.43,351.70 328.23,352.60 329.05,352.86 329.93,353.17 330.88,353.60 331.90,353.99 332.93,354.28 333.91,354.92 334.91,355.35 335.99,356.32 337.19,356.84 338.59,357.38 340.24,357.52 342.20,358.16 344.69,358.30 347.76,358.91 351.18,359.14 354.74,359.51 358.22,359.52 361.41,359.66 364.07,359.85 366.00,359.56" fill="none" stroke="#ee2020" stroke-width="2.3" stroke-linejoin="round"/>
<polyline points="39.60,354.79 40.91,354.49 42.75,354.53 44.94,353.86 47.33,353.79 49.75,353.32 52.04,352.75 54.05,352.65 55.60,352.02 56.70,351.94 57.51,351.43 58.09,351.15 58.51,351.05 58.84,350.97 59.15,350.21 59.51,349.88 60.00,349.68 60.57,349.40 61.13,348.71 61.69,348.12 62.26,347.94 62.84,346.79 63.44,346.60 64.06,345.48 64.70,344.49 65.39,343.46 66.12,342.49 66.88,341.62 67.65,339.98 68.42,338.85 69.16,337.41 69.86,335.65 70.50,334.03 71.08,331.78 71.63,329.55 72.14,327.24 72.62,325.05 73.09,322.42 73.53,319.98 73.97,317.95 74.40,315.97 74.81,314.32 75.20,313.32 75.56,312.16 75.92,310.89 76.27,310.10 76.63,309.01 77.00,308.00 77.40,306.44 77.83,304.40 78.30,302.79 78.79,300.10 79.29,298.03 79.77,295.99 80.23,293.47 80.64,291.70 81.00,289.72 81.28,288.77 81.47,287.84 81.62,286.94 81.74,286.43 81.88,285.33 82.04,284.61 82.27,283.28 82.60,281.55 83.04,279.15 83.56,276.53 84.15,273.38 84.78,269.72 85.42,266.45 86.03,262.89 86.60,260.43 87.10,258.09 87.52,256.51 87.88,254.98 88.20,253.51 88.50,252.64 88.79,252.03 89.10,250.94 89.43,250.52 89.80,249.60 90.22,248.82 90.66,248.13 91.12,247.96 91.59,247.04 92.08,246.61 92.56,246.21 93.04,246.02 93.50,245.05 93.95,244.67 94.41,243.98 94.86,243.40 95.31,242.62 95.75,242.03 96.20,241.30 96.65,241.31 97.10,241.62 97.54,242.65 97.98,243.71 98.41,244.51 98.84,246.05 99.28,247.84 99.74,249.80 100.21,252.09 100.70,254.45 101.23,256.85 101.79,259.67 102.37,263.15 102.97,266.52 103.56,270.09 104.14,273.73 104.69,276.82 105.20,279.71 105.67,282.53 106.10,285.20 106.50,287.36 106.89,290.33 107.28,292.66 107.67,295.09 108.07,297.40 108.50,299.54 108.94,301.92 109.39,304.10 109.85,306.75 110.31,308.71 110.79,310.99 111.27,313.33 111.78,315.52 112.30,317.80 112.85,319.82 113.41,322.01 114.00,324.31 114.60,326.45 115.21,328.69 115.81,330.46 116.41,332.79 117.00,334.27 117.56,335.40 118.10,336.68 118.63,337.79 119.16,338.75 119.70,339.48 120.28,340.75 120.91,341.69 121.60,342.28 122.37,343.24 123.21,343.96 124.10,344.92 125.03,345.99 125.96,346.84 126.88,348.02 127.77,348.40 128.60,349.01 129.37,350.18 130.11,350.47 130.81,350.71 131.50,351.37 132.19,351.45 132.89,352.11 133.63,352.73 134.40,353.02 135.21,353.27 136.03,353.34 136.87,353.72 137.73,353.89 138.61,354.53 139.51,354.65 140.44,355.04 141.40,355.00 142.12,355.14 142.47,355.68 142.69,355.95 143.01,356.02 143.67,356.13 144.90,356.27 146.93,356.33 150.00,356.14 154.34,356.41 159.82,356.39 166.16,356.25 173.04,356.30 180.16,356.50 187.23,356.54 193.95,356.85 200.00,357.07 205.69,356.85 211.42,357.23 217.08,357.36 222.54,357.44 227.69,357.18 232.39,357.16 236.54,357.22 240.00,357.22 242.63,357.21 244.48,357.43 245.74,357.54 246.57,357.43 247.16,357.12 247.69,357.13 248.35,357.10 249.30,356.55 250.48,356.77 251.70,356.78 252.92,356.55 254.14,356.36 255.34,356.02 256.49,355.65 257.59,355.80 258.60,355.30 259.52,355.33 260.37,355.17 261.15,354.55 261.89,354.25 262.61,354.27 263.32,353.81 264.05,353.15 264.80,352.78 265.59,352.44 266.40,352.53 267.23,352.10 268.04,351.31 268.84,351.32 269.61,350.99 270.34,350.36 271.00,349.71 271.61,349.31 272.17,348.48 272.70,347.80 273.19,347.75 273.66,346.94 274.09,346.31 274.50,346.06 274.90,345.36 275.25,345.38 275.53,345.27 275.77,344.90 276.00,344.96 276.23,345.00 276.49,344.89 276.81,344.88 277.20,344.26 277.67,343.71 278.20,342.73 278.78,342.25 279.39,340.89 280.02,339.86 280.66,338.82 281.29,337.90 281.90,336.55 282.50,335.79 283.12,334.41 283.75,333.27 284.37,332.10 284.98,330.66 285.58,329.84 286.16,328.69 286.70,327.70 287.21,327.41 287.68,326.33 288.14,325.89 288.57,325.47 289.00,324.86 289.43,324.27 289.86,323.98 290.30,323.63 290.75,323.45 291.20,322.77 291.65,322.83 292.10,322.47 292.55,322.37 293.00,322.59 293.45,322.40 293.90,322.44 294.35,322.60 294.80,322.76 295.25,322.59 295.69,322.85 296.14,322.99 296.59,323.27 297.05,323.71 297.50,323.97 297.95,324.52 298.40,325.09 298.85,326.05 299.29,326.63 299.75,327.50 300.22,328.31 300.70,328.65 301.20,329.54 301.71,330.43 302.23,331.02 302.75,331.24 303.29,331.87 303.85,332.71 304.43,333.17 305.05,333.98 305.70,334.64 306.41,335.83 307.17,336.79 307.97,337.79 308.79,338.29 309.62,339.58 310.45,340.48 311.24,341.06 312.00,342.33 312.74,343.16 313.48,343.49 314.21,344.67 314.93,345.06 315.62,345.79 316.27,346.72 316.87,347.19 317.40,347.30 317.84,347.87 318.20,348.24 318.49,348.38 318.74,348.49 318.99,348.75 319.27,349.19 319.59,349.01 320.00,349.63 320.49,349.94 321.05,350.12 321.65,350.78 322.27,351.43 322.91,351.84 323.54,352.01 324.14,352.96 324.70,353.17 325.19,353.53 325.60,353.18 325.98,353.40 326.36,353.37 326.77,353.90 327.24,353.71 327.81,353.77 328.50,354.15 329.20,354.72 329.81,355.00 330.44,355.02 331.18,355.34 332.10,356.18 333.32,356.34 334.92,356.74 337.00,356.65 339.84,356.86 343.49,357.45 347.65,357.47 352.03,357.41 356.35,358.07 360.31,358.00 363.62,358.20 366.00,357.85" fill="none" stroke="#0a0a0a" stroke-width="2.3" stroke-linejoin="round"/>
<text x="26.5" y="238" font-size="16" textLength="22.5" lengthAdjust="spacingAndGlyphs" fill="#111" stroke="#111" stroke-width="0.05">(b)</text>
<text stroke="#111" stroke-width="0.3" transform="translate(13.4,291) rotate(-90)" font-size="17" fill="#111" text-anchor="middle">Intensity</text>
<text stroke="#111" stroke-width="0.3" x="204" y="401.5" font-size="16.2" textLength="56" lengthAdjust="spacingAndGlyphs" fill="#111" text-anchor="middle">d in nm</text>
<text stroke="#111" stroke-width="0.3" x="227.9" y="325.8" font-size="12.2" fill="#111">Ice</text>
<text stroke="#111" stroke-width="0.3" x="251" y="325.8" font-size="12.4" textLength="31.5" lengthAdjust="spacingAndGlyphs" fill="#111">β-XV</text>
<text stroke="#e02020" stroke-width="0.3" x="287.7" y="318.6" font-size="12.2" fill="#e02020">Ice VI</text>
<text stroke="#2f45e8" stroke-width="0.3" x="324.2" y="323.7" font-size="12.2" fill="#2f45e8">Ice XV</text>
<rect x="56.8" y="408" width="329.2" height="150" fill="#e7ecef"/>
<line x1="70.5" y1="408" x2="70.5" y2="558" stroke="#eef2f4" stroke-width="1"/>
<line x1="93.5" y1="408" x2="93.5" y2="558" stroke="#f6f9fa" stroke-width="1"/>
<line x1="116.5" y1="408" x2="116.5" y2="558" stroke="#eef2f4" stroke-width="1"/>
<line x1="140.5" y1="408" x2="140.5" y2="558" stroke="#f6f9fa" stroke-width="1"/>
<line x1="163.5" y1="408" x2="163.5" y2="558" stroke="#eef2f4" stroke-width="1"/>
<line x1="186.5" y1="408" x2="186.5" y2="558" stroke="#f6f9fa" stroke-width="1"/>
<line x1="209.5" y1="408" x2="209.5" y2="558" stroke="#eef2f4" stroke-width="1"/>
<line x1="232.5" y1="408" x2="232.5" y2="558" stroke="#f6f9fa" stroke-width="1"/>
<line x1="256.5" y1="408" x2="256.5" y2="558" stroke="#eef2f4" stroke-width="1"/>
<line x1="279.5" y1="408" x2="279.5" y2="558" stroke="#f6f9fa" stroke-width="1"/>
<line x1="302.5" y1="408" x2="302.5" y2="558" stroke="#eef2f4" stroke-width="1"/>
<line x1="325.5" y1="408" x2="325.5" y2="558" stroke="#f6f9fa" stroke-width="1"/>
<line x1="348.5" y1="408" x2="348.5" y2="558" stroke="#eef2f4" stroke-width="1"/>
<line x1="371.5" y1="408" x2="371.5" y2="558" stroke="#f6f9fa" stroke-width="1"/>
<line x1="56.8" y1="541.5" x2="386" y2="541.5" stroke="#eef2f4" stroke-width="1"/>
<line x1="56.8" y1="515.5" x2="386" y2="515.5" stroke="#f6f9fa" stroke-width="1"/>
<line x1="56.8" y1="490.5" x2="386" y2="490.5" stroke="#eef2f4" stroke-width="1"/>
<line x1="56.8" y1="464.5" x2="386" y2="464.5" stroke="#f6f9fa" stroke-width="1"/>
<line x1="56.8" y1="439.5" x2="386" y2="439.5" stroke="#eef2f4" stroke-width="1"/>
<line x1="56.8" y1="414.5" x2="386" y2="414.5" stroke="#f6f9fa" stroke-width="1"/>
<line x1="94.50" y1="558" x2="94.50" y2="561" stroke="#333" stroke-width="0.9"/>
<text stroke="#2b2b2b" stroke-width="0.3" x="94.50" y="574.4" font-size="12.6" fill="#2b2b2b" text-anchor="middle">80</text>
<line x1="140.85" y1="558" x2="140.85" y2="561" stroke="#333" stroke-width="0.9"/>
<text stroke="#2b2b2b" stroke-width="0.3" x="140.85" y="574.4" font-size="12.6" fill="#2b2b2b" text-anchor="middle">90</text>
<line x1="187.20" y1="558" x2="187.20" y2="561" stroke="#333" stroke-width="0.9"/>
<text stroke="#2b2b2b" stroke-width="0.3" x="187.20" y="574.4" font-size="12.6" fill="#2b2b2b" text-anchor="middle">100</text>
<line x1="233.55" y1="558" x2="233.55" y2="561" stroke="#333" stroke-width="0.9"/>
<text stroke="#2b2b2b" stroke-width="0.3" x="233.55" y="574.4" font-size="12.6" fill="#2b2b2b" text-anchor="middle">110</text>
<line x1="279.90" y1="558" x2="279.90" y2="561" stroke="#333" stroke-width="0.9"/>
<text stroke="#2b2b2b" stroke-width="0.3" x="279.90" y="574.4" font-size="12.6" fill="#2b2b2b" text-anchor="middle">120</text>
<line x1="326.25" y1="558" x2="326.25" y2="561" stroke="#333" stroke-width="0.9"/>
<text stroke="#2b2b2b" stroke-width="0.3" x="326.25" y="574.4" font-size="12.6" fill="#2b2b2b" text-anchor="middle">130</text>
<line x1="372.60" y1="558" x2="372.60" y2="561" stroke="#333" stroke-width="0.9"/>
<text stroke="#2b2b2b" stroke-width="0.3" x="372.60" y="574.4" font-size="12.6" fill="#2b2b2b" text-anchor="middle">140</text>
<line x1="53.8" y1="516.60" x2="56.8" y2="516.60" stroke="#333" stroke-width="0.9"/>
<text stroke="#2b2b2b" stroke-width="0.3" x="50" y="521.10" font-size="12.6" fill="#2b2b2b" text-anchor="end">0.265</text>
<line x1="53.8" y1="465.80" x2="56.8" y2="465.80" stroke="#333" stroke-width="0.9"/>
<text stroke="#2b2b2b" stroke-width="0.3" x="50" y="470.30" font-size="12.6" fill="#2b2b2b" text-anchor="end">0.266</text>
<line x1="53.8" y1="415.00" x2="56.8" y2="415.00" stroke="#333" stroke-width="0.9"/>
<text stroke="#2b2b2b" stroke-width="0.3" x="50" y="419.50" font-size="12.6" fill="#2b2b2b" text-anchor="end">0.267</text>
<polyline points="80.00,531.80 80.13,531.76 80.16,531.75 80.15,531.75 80.16,531.74 80.25,531.71 80.48,531.64 80.91,531.50 81.60,531.27 82.61,530.95 84.00,530.50 85.83,529.92 88.06,529.21 90.62,528.39 93.45,527.50 96.47,526.54 99.61,525.53 102.81,524.51 105.98,523.48 109.07,522.47 112.00,521.50 114.93,520.55 118.01,519.60 121.18,518.63 124.39,517.66 127.55,516.68 130.61,515.69 133.50,514.69 136.16,513.67 138.51,512.64 140.50,511.60 142.09,510.53 143.32,509.42 144.25,508.28 144.96,507.13 145.49,505.97 145.91,504.82 146.28,503.68 146.66,502.58 147.11,501.51 147.70,500.50 148.35,499.53 148.97,498.61 149.56,497.71 150.15,496.84 150.72,495.99 151.31,495.16 151.93,494.34 152.57,493.52 153.26,492.71 154.00,491.90 154.80,491.10 155.65,490.33 156.54,489.59 157.47,488.85 158.41,488.12 159.37,487.38 160.34,486.63 161.31,485.85 162.26,485.05 163.20,484.20 164.13,483.30 165.07,482.35 166.01,481.36 166.96,480.34 167.91,479.32 168.85,478.30 169.78,477.29 170.70,476.31 171.61,475.38 172.50,474.50 173.36,473.68 174.19,472.89 175.00,472.14 175.79,471.42 176.58,470.72 177.38,470.03 178.19,469.35 179.02,468.67 179.89,467.99 180.80,467.30 181.73,466.61 182.66,465.94 183.60,465.28 184.55,464.62 185.53,463.97 186.55,463.31 187.62,462.64 188.74,461.95 189.93,461.24 191.20,460.50 192.52,459.72 193.86,458.89 195.24,458.04 196.67,457.16 198.16,456.28 199.72,455.40 201.38,454.55 203.13,453.72 205.00,452.93 207.00,452.20 209.21,451.50 211.68,450.82 214.32,450.16 217.09,449.52 219.91,448.91 222.72,448.34 225.45,447.80 228.03,447.32 230.40,446.88 232.50,446.50 234.31,446.19 235.91,445.93 237.33,445.74 238.61,445.59 239.79,445.48 240.92,445.40 242.04,445.34 243.18,445.29 244.39,445.25 245.70,445.20 247.07,445.16 248.44,445.13 249.80,445.13 251.17,445.14 252.56,445.17 253.98,445.20 255.43,445.25 256.93,445.30 258.48,445.35 260.10,445.40 261.76,445.42 263.43,445.40 265.13,445.35 266.87,445.30 268.66,445.27 270.50,445.29 272.42,445.37 274.42,445.53 276.51,445.80 278.70,446.20 281.03,446.74 283.50,447.40 286.10,448.16 288.78,449.00 291.51,449.91 294.28,450.87 297.04,451.86 299.76,452.85 302.43,453.84 305.00,454.80 307.51,455.76 310.02,456.76 312.51,457.79 314.99,458.83 317.43,459.89 319.84,460.94 322.21,461.99 324.53,463.02 326.80,464.03 329.00,465.00 331.21,465.98 333.48,466.99 335.77,468.02 338.02,469.04 340.20,470.04 342.26,470.98 344.15,471.85 345.84,472.63 347.27,473.28 348.40,473.80" fill="none" stroke="#0a0a0a" stroke-width="2.4" stroke-linejoin="round"/>
<line x1="80.2" y1="521" x2="80.2" y2="544.2" stroke="#0a0a0a" stroke-width="2"/>
<line x1="76.45" y1="521" x2="83.95" y2="521" stroke="#0a0a0a" stroke-width="2.3"/>
<line x1="76.45" y1="544.2" x2="83.95" y2="544.2" stroke="#0a0a0a" stroke-width="2.3"/>
<line x1="88.7" y1="520.2" x2="88.7" y2="536.4" stroke="#0a0a0a" stroke-width="2"/>
<line x1="84.95" y1="520.2" x2="92.45" y2="520.2" stroke="#0a0a0a" stroke-width="2.3"/>
<line x1="84.95" y1="536.4" x2="92.45" y2="536.4" stroke="#0a0a0a" stroke-width="2.3"/>
<line x1="83.3" y1="527" x2="83.3" y2="551.2" stroke="#0a0a0a" stroke-width="2"/>
<line x1="79.55" y1="527" x2="87.05" y2="527" stroke="#0a0a0a" stroke-width="2.3"/>
<line x1="79.55" y1="551.2" x2="87.05" y2="551.2" stroke="#0a0a0a" stroke-width="2.3"/>
<line x1="83.3" y1="527" x2="83.3" y2="546.5" stroke="#0a0a0a" stroke-width="2"/>
<line x1="79.55" y1="527" x2="87.05" y2="527" stroke="#0a0a0a" stroke-width="2.3"/>
<line x1="79.55" y1="546.5" x2="87.05" y2="546.5" stroke="#0a0a0a" stroke-width="2.3"/>
<line x1="140.5" y1="499" x2="140.5" y2="528.8" stroke="#0a0a0a" stroke-width="2"/>
<line x1="136.75" y1="499" x2="144.25" y2="499" stroke="#0a0a0a" stroke-width="2.3"/>
<line x1="136.75" y1="528.8" x2="144.25" y2="528.8" stroke="#0a0a0a" stroke-width="2.3"/>
<line x1="163.5" y1="468" x2="163.5" y2="488" stroke="#0a0a0a" stroke-width="2"/>
<line x1="159.75" y1="468" x2="167.25" y2="468" stroke="#0a0a0a" stroke-width="2.3"/>
<line x1="159.75" y1="488" x2="167.25" y2="488" stroke="#0a0a0a" stroke-width="2.3"/>
<line x1="186.4" y1="446.2" x2="186.4" y2="461" stroke="#0a0a0a" stroke-width="2"/>
<line x1="182.65" y1="446.2" x2="190.15" y2="446.2" stroke="#0a0a0a" stroke-width="2.3"/>
<line x1="182.65" y1="461" x2="190.15" y2="461" stroke="#0a0a0a" stroke-width="2.3"/>
<line x1="191.6" y1="453.4" x2="191.6" y2="476.1" stroke="#0a0a0a" stroke-width="2"/>
<line x1="187.85" y1="453.4" x2="195.35" y2="453.4" stroke="#0a0a0a" stroke-width="2.3"/>
<line x1="187.85" y1="476.1" x2="195.35" y2="476.1" stroke="#0a0a0a" stroke-width="2.3"/>
<line x1="209.5" y1="438" x2="209.5" y2="453.4" stroke="#0a0a0a" stroke-width="2"/>
<line x1="205.75" y1="438" x2="213.25" y2="438" stroke="#0a0a0a" stroke-width="2.3"/>
<line x1="205.75" y1="453.4" x2="213.25" y2="453.4" stroke="#0a0a0a" stroke-width="2.3"/>
<line x1="232.4" y1="433.8" x2="232.4" y2="446.2" stroke="#0a0a0a" stroke-width="2"/>
<line x1="228.65" y1="433.8" x2="236.15" y2="433.8" stroke="#0a0a0a" stroke-width="2.3"/>
<line x1="228.65" y1="446.2" x2="236.15" y2="446.2" stroke="#0a0a0a" stroke-width="2.3"/>
<line x1="232.4" y1="438" x2="232.4" y2="453.4" stroke="#0a0a0a" stroke-width="2"/>
<line x1="228.65" y1="438" x2="236.15" y2="438" stroke="#0a0a0a" stroke-width="2.3"/>
<line x1="228.65" y1="453.4" x2="236.15" y2="453.4" stroke="#0a0a0a" stroke-width="2.3"/>
<line x1="260.5" y1="431.3" x2="260.5" y2="461" stroke="#0a0a0a" stroke-width="2"/>
<line x1="256.75" y1="431.3" x2="264.25" y2="431.3" stroke="#0a0a0a" stroke-width="2.3"/>
<line x1="256.75" y1="461" x2="264.25" y2="461" stroke="#0a0a0a" stroke-width="2.3"/>
<line x1="278.6" y1="430.7" x2="278.6" y2="453.2" stroke="#0a0a0a" stroke-width="2"/>
<line x1="274.85" y1="430.7" x2="282.35" y2="430.7" stroke="#0a0a0a" stroke-width="2.3"/>
<line x1="274.85" y1="453.2" x2="282.35" y2="453.2" stroke="#0a0a0a" stroke-width="2.3"/>
<line x1="348.4" y1="464.4" x2="348.4" y2="478.9" stroke="#0a0a0a" stroke-width="2"/>
<line x1="344.65" y1="464.4" x2="352.15" y2="464.4" stroke="#0a0a0a" stroke-width="2.3"/>
<line x1="344.65" y1="478.9" x2="352.15" y2="478.9" stroke="#0a0a0a" stroke-width="2.3"/>
<circle cx="80.2" cy="531" r="4.4" fill="#0a0a0a"/>
<circle cx="88.7" cy="530.2" r="4.4" fill="#0a0a0a"/>
<circle cx="83.3" cy="534" r="4.4" fill="#0a0a0a"/>
<circle cx="83.3" cy="534" r="4.4" fill="#0a0a0a"/>
<circle cx="140.5" cy="512.2" r="4.4" fill="#0a0a0a"/>
<circle cx="163.5" cy="484.6" r="4.4" fill="#0a0a0a"/>
<circle cx="186.4" cy="453.3" r="4.4" fill="#0a0a0a"/>
<circle cx="191.6" cy="460.6" r="4.4" fill="#0a0a0a"/>
<circle cx="209.5" cy="447.2" r="4.4" fill="#0a0a0a"/>
<circle cx="232.4" cy="438" r="4.4" fill="#0a0a0a"/>
<circle cx="232.4" cy="445" r="4.4" fill="#0a0a0a"/>
<circle cx="260.5" cy="445.5" r="4.4" fill="#0a0a0a"/>
<circle cx="278.6" cy="443.7" r="4.4" fill="#0a0a0a"/>
<circle cx="348.4" cy="472.2" r="4.4" fill="#0a0a0a"/>
<polyline points="94.30,451.00 96.01,450.55 98.26,449.96 100.94,449.25 103.94,448.45 107.14,447.61 110.43,446.74 113.69,445.90 116.82,445.11 119.69,444.39 122.20,443.80 124.42,443.30 126.53,442.85 128.53,442.45 130.42,442.09 132.22,441.76 133.93,441.47 135.55,441.20 137.10,440.95 138.58,440.72 140.00,440.50 141.28,440.32 142.36,440.19 143.31,440.11 144.16,440.05 144.96,440.01 145.77,439.97 146.63,439.91 147.59,439.82 148.69,439.69 150.00,439.50 151.52,439.25 153.22,438.95 155.05,438.61 156.99,438.24 158.98,437.86 160.98,437.46 162.97,437.07 164.89,436.69 166.72,436.33 168.40,436.00 169.96,435.69 171.44,435.40 172.85,435.11 174.21,434.83 175.54,434.56 176.83,434.30 178.12,434.04 179.40,433.79 180.69,433.54 182.00,433.30 183.32,433.07 184.62,432.84 185.90,432.63 187.18,432.43 188.46,432.23 189.74,432.03 191.02,431.83 192.33,431.62 193.65,431.42 195.00,431.20 196.34,430.97 197.64,430.74 198.92,430.49 200.21,430.25 201.53,430.00 202.89,429.76 204.33,429.52 205.86,429.30 207.51,429.09 209.30,428.90 211.31,428.72 213.56,428.55 216.00,428.38 218.54,428.22 221.12,428.07 223.68,427.94 226.14,427.82 228.44,427.72 230.52,427.65 232.30,427.60 233.76,427.58 234.94,427.58 235.91,427.60 236.72,427.65 237.43,427.71 238.10,427.78 238.79,427.87 239.54,427.97 240.43,428.08 241.50,428.20 242.74,428.32 244.06,428.44 245.46,428.57 246.92,428.71 248.42,428.86 249.95,429.04 251.48,429.23 253.02,429.45 254.53,429.71 256.00,430.00 257.46,430.34 258.93,430.73 260.42,431.16 261.90,431.62 263.38,432.09 264.85,432.58 266.30,433.06 267.73,433.54 269.14,433.98 270.50,434.40 271.83,434.78 273.15,435.13 274.44,435.47 275.71,435.79 276.96,436.11 278.19,436.44 279.40,436.77 280.59,437.12 281.75,437.49 282.90,437.90 284.01,438.33 285.07,438.78 286.10,439.25 287.10,439.73 288.09,440.23 289.07,440.74 290.07,441.26 291.08,441.80 292.12,442.34 293.20,442.90 294.26,443.44 295.27,443.94 296.25,444.44 297.23,444.93 298.24,445.46 299.33,446.02 300.52,446.65 301.84,447.36 303.32,448.17 305.00,449.10 306.93,450.19 309.09,451.43 311.45,452.79 313.94,454.25 316.52,455.75 319.15,457.27 321.75,458.77 324.30,460.22 326.73,461.57 329.00,462.80 331.21,463.96 333.48,465.11 335.77,466.23 338.02,467.32 340.20,468.36 342.26,469.32 344.15,470.21 345.84,470.99 347.27,471.66 348.40,472.20" fill="none" stroke="#2340f2" stroke-width="2.6" stroke-linejoin="round"/>
<line x1="94.2" y1="438.5" x2="94.2" y2="457.6" stroke="#2340f2" stroke-width="2"/>
<line x1="90.7" y1="438.5" x2="97.7" y2="438.5" stroke="#2340f2" stroke-width="2.3"/>
<line x1="90.7" y1="457.6" x2="97.7" y2="457.6" stroke="#2340f2" stroke-width="2.3"/>
<line x1="94.2" y1="440.5" x2="94.2" y2="461" stroke="#2340f2" stroke-width="2"/>
<line x1="90.7" y1="440.5" x2="97.7" y2="440.5" stroke="#2340f2" stroke-width="2.3"/>
<line x1="90.7" y1="461" x2="97.7" y2="461" stroke="#2340f2" stroke-width="2.3"/>
<line x1="122.7" y1="431.3" x2="122.7" y2="449.9" stroke="#2340f2" stroke-width="2"/>
<line x1="119.2" y1="431.3" x2="126.2" y2="431.3" stroke="#2340f2" stroke-width="2.3"/>
<line x1="119.2" y1="449.9" x2="126.2" y2="449.9" stroke="#2340f2" stroke-width="2.3"/>
<line x1="149.8" y1="430" x2="149.8" y2="452.5" stroke="#2340f2" stroke-width="2"/>
<line x1="146.3" y1="430" x2="153.3" y2="430" stroke="#2340f2" stroke-width="2.3"/>
<line x1="146.3" y1="452.5" x2="153.3" y2="452.5" stroke="#2340f2" stroke-width="2.3"/>
<line x1="168.4" y1="427.4" x2="168.4" y2="448.8" stroke="#2340f2" stroke-width="2"/>
<line x1="164.9" y1="427.4" x2="171.9" y2="427.4" stroke="#2340f2" stroke-width="2.3"/>
<line x1="164.9" y1="448.8" x2="171.9" y2="448.8" stroke="#2340f2" stroke-width="2.3"/>
<line x1="182" y1="419.3" x2="182" y2="448.9" stroke="#2340f2" stroke-width="2"/>
<line x1="178.5" y1="419.3" x2="185.5" y2="419.3" stroke="#2340f2" stroke-width="2.3"/>
<line x1="178.5" y1="448.9" x2="185.5" y2="448.9" stroke="#2340f2" stroke-width="2.3"/>
<line x1="209.3" y1="419.5" x2="209.3" y2="439" stroke="#2340f2" stroke-width="2"/>
<line x1="205.8" y1="419.5" x2="212.8" y2="419.5" stroke="#2340f2" stroke-width="2.3"/>
<line x1="205.8" y1="439" x2="212.8" y2="439" stroke="#2340f2" stroke-width="2.3"/>
<line x1="232.3" y1="415.2" x2="232.3" y2="441.6" stroke="#2340f2" stroke-width="2"/>
<line x1="228.8" y1="415.2" x2="235.8" y2="415.2" stroke="#2340f2" stroke-width="2.3"/>
<line x1="228.8" y1="441.6" x2="235.8" y2="441.6" stroke="#2340f2" stroke-width="2.3"/>
<line x1="255.8" y1="419.6" x2="255.8" y2="441.6" stroke="#2340f2" stroke-width="2"/>
<line x1="252.3" y1="419.6" x2="259.3" y2="419.6" stroke="#2340f2" stroke-width="2.3"/>
<line x1="252.3" y1="441.6" x2="259.3" y2="441.6" stroke="#2340f2" stroke-width="2.3"/>
<line x1="283" y1="423" x2="283" y2="446.2" stroke="#2340f2" stroke-width="2"/>
<line x1="279.5" y1="423" x2="286.5" y2="423" stroke="#2340f2" stroke-width="2.3"/>
<line x1="279.5" y1="446.2" x2="286.5" y2="446.2" stroke="#2340f2" stroke-width="2.3"/>
<line x1="302.4" y1="430" x2="302.4" y2="461" stroke="#2340f2" stroke-width="2"/>
<line x1="298.9" y1="430" x2="305.9" y2="430" stroke="#2340f2" stroke-width="2.3"/>
<line x1="298.9" y1="461" x2="305.9" y2="461" stroke="#2340f2" stroke-width="2.3"/>
<line x1="328.9" y1="457.3" x2="328.9" y2="475.6" stroke="#2340f2" stroke-width="2"/>
<line x1="325.4" y1="457.3" x2="332.4" y2="457.3" stroke="#2340f2" stroke-width="2.3"/>
<line x1="325.4" y1="475.6" x2="332.4" y2="475.6" stroke="#2340f2" stroke-width="2.3"/>
<line x1="348.4" y1="465.6" x2="348.4" y2="480" stroke="#2340f2" stroke-width="2"/>
<line x1="344.9" y1="465.6" x2="351.9" y2="465.6" stroke="#2340f2" stroke-width="2.3"/>
<line x1="344.9" y1="480" x2="351.9" y2="480" stroke="#2340f2" stroke-width="2.3"/>
<circle cx="94.2" cy="450.1" r="4.1" fill="#2340f2"/>
<circle cx="94.2" cy="450.1" r="4.1" fill="#2340f2"/>
<circle cx="122.7" cy="440.8" r="4.1" fill="#2340f2"/>
<circle cx="149.8" cy="440.3" r="4.1" fill="#2340f2"/>
<circle cx="168.4" cy="435.9" r="4.1" fill="#2340f2"/>
<circle cx="182" cy="432.7" r="4.1" fill="#2340f2"/>
<circle cx="209.3" cy="429.4" r="4.1" fill="#2340f2"/>
<circle cx="232.3" cy="428.4" r="4.1" fill="#2340f2"/>
<circle cx="255.8" cy="430.7" r="4.1" fill="#2340f2"/>
<circle cx="283" cy="435.1" r="4.1" fill="#2340f2"/>
<circle cx="302.4" cy="446.8" r="4.1" fill="#2340f2"/>
<circle cx="328.9" cy="465.6" r="4.1" fill="#2340f2"/>
<circle cx="348.4" cy="472.2" r="4.1" fill="#2340f2"/>
<text x="63.8" y="435.8" font-size="16" textLength="21" lengthAdjust="spacingAndGlyphs" fill="#111" stroke="#111" stroke-width="0.05">(c)</text>
<text stroke="#2340f2" stroke-width="0.3" x="60.7" y="474.5" font-size="13.6" fill="#2340f2">after recooling</text>
<text stroke="#111" stroke-width="0.3" x="63.6" y="512.6" font-size="13.2" textLength="52.5" lengthAdjust="spacingAndGlyphs" fill="#111">Ice β-XV</text>
<text stroke="#111" stroke-width="0.3" transform="translate(14.1,483.3) rotate(-90)" font-size="16.3" fill="#111" text-anchor="middle">d in nm</text>
<text stroke="#111" stroke-width="0.3" x="221.7" y="592.2" font-size="16.4" textLength="128.5" lengthAdjust="spacingAndGlyphs" fill="#111" text-anchor="middle">Temperature in K</text></svg>
</body></html>
